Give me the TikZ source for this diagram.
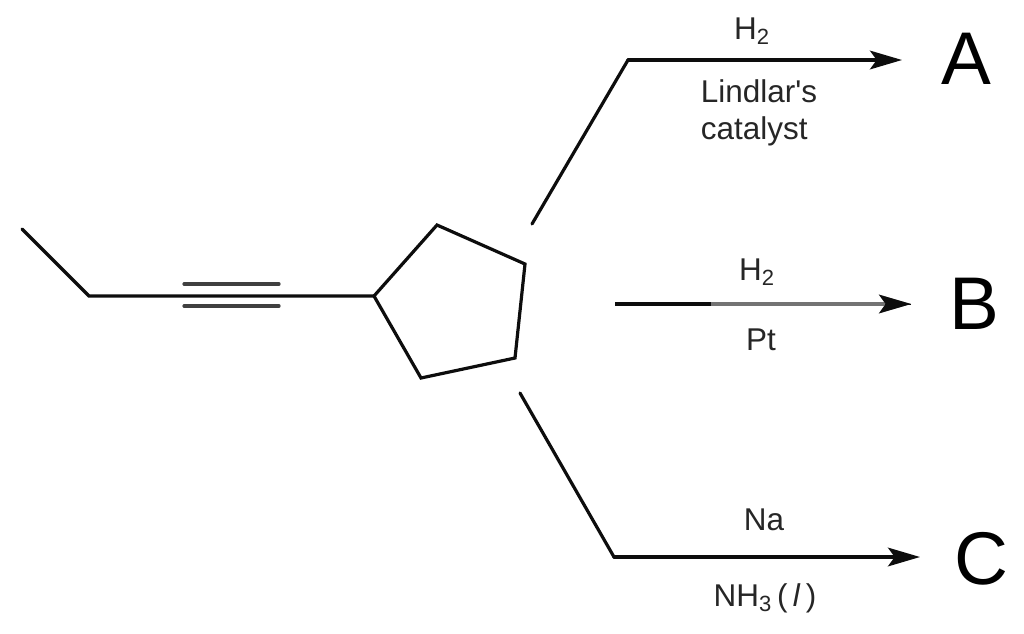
\documentclass[tikz,border=0pt]{standalone}
\usepackage{fontspec}
\setmainfont{Liberation Sans}
\usetikzlibrary{arrows.meta}
\tikzset{
  bond/.style={line width=2.4pt,line cap=round,line join=miter,color=black!95},
  rxn/.style={bond,-{Stealth[length=24pt,width=14pt,inset=5pt]}},
  reagent/.style={inner sep=0pt,align=center,font=\fontsize{23.6}{28}\selectfont,color=black!85},
  product/.style={inner sep=0pt,font=\fontsize{56}{60}\selectfont}
}
\begin{document}
\begin{tikzpicture}[x=0.75pt,y=0.75pt,yscale=-1,xscale=1]
  \useasboundingbox (0,0) rectangle (1024,633);
  %Chain and triple bond
  \coordinate (ch3) at (22,229);
  \coordinate (ch2) at (89,296);
  \coordinate (ring1) at (374,296);
  \coordinate (ring2) at (437,225);
  \coordinate (ring3) at (525,264);
  \coordinate (ring4) at (515,358);
  \coordinate (ring5) at (421,378);
  \coordinate (tripA) at (184,284);
  \coordinate (tripB) at (279,284);
  \coordinate (tripC) at (184,306);
  \coordinate (tripD) at (279,306);
  \draw [bond] (ch3) -- (ch2) -- (ring1);
  \draw [bond] (ring1) -- (ring2) -- (ring3) -- (ring4) -- (ring5) -- cycle;
  \draw [bond,color=black!75] (tripA) -- (tripB);
  \draw [bond,color=black!75] (tripC) -- (tripD);

  %Arrow to A
  \coordinate (aStart) at (532,224);
  \coordinate (aBend) at (628,60);
  \coordinate (aEnd) at (902,60);
  \draw [bond] (aStart) -- (aBend);
  \draw [rxn] (aBend) -- (aEnd);
  %Arrow to B
  \coordinate (bStart) at (615,304);
  \coordinate (bMid) at (711,304);
  \coordinate (bEnd) at (911,304);
  \draw [rxn,color=black!55,line cap=butt] (bMid) -- (bEnd);
  \draw [-{Stealth[length=24pt,width=14pt,inset=5pt]},line width=0pt,color=black!95] (bEnd)++(-1,0) -- (bEnd);
  \draw [bond,line cap=butt] (bStart) -- (bMid);
  %Arrow to C
  \coordinate (cStart) at (520,393);
  \coordinate (cBend) at (614,557);
  \coordinate (cEnd) at (920,557);
  \draw [bond] (cStart) -- (cBend);
  \draw [rxn] (cBend) -- (cEnd);

  % Text Node
  \node [reagent] (h2a) at (752,31) {H\textsubscript{2}};
  \node [reagent,align=left] (lindlar) at (759,113) {Lindlar\textquotesingle s\\catalyst};
  \node [reagent] (h2b) at (757,272) {H\textsubscript{2}};
  \node [reagent] (pt) at (761,340) {Pt};
  \node [reagent] (na) at (764,520) {Na};
  \node [reagent] (nh3) at (765,598) {NH\textsubscript{3}\,(\,\textit{l}\,)};
  \node [product] (prodA) at (966,59) {A};
  \node [product] (prodB) at (974,304) {B};
  \node [product] (prodC) at (981,559) {C};
\end{tikzpicture}
\end{document}
